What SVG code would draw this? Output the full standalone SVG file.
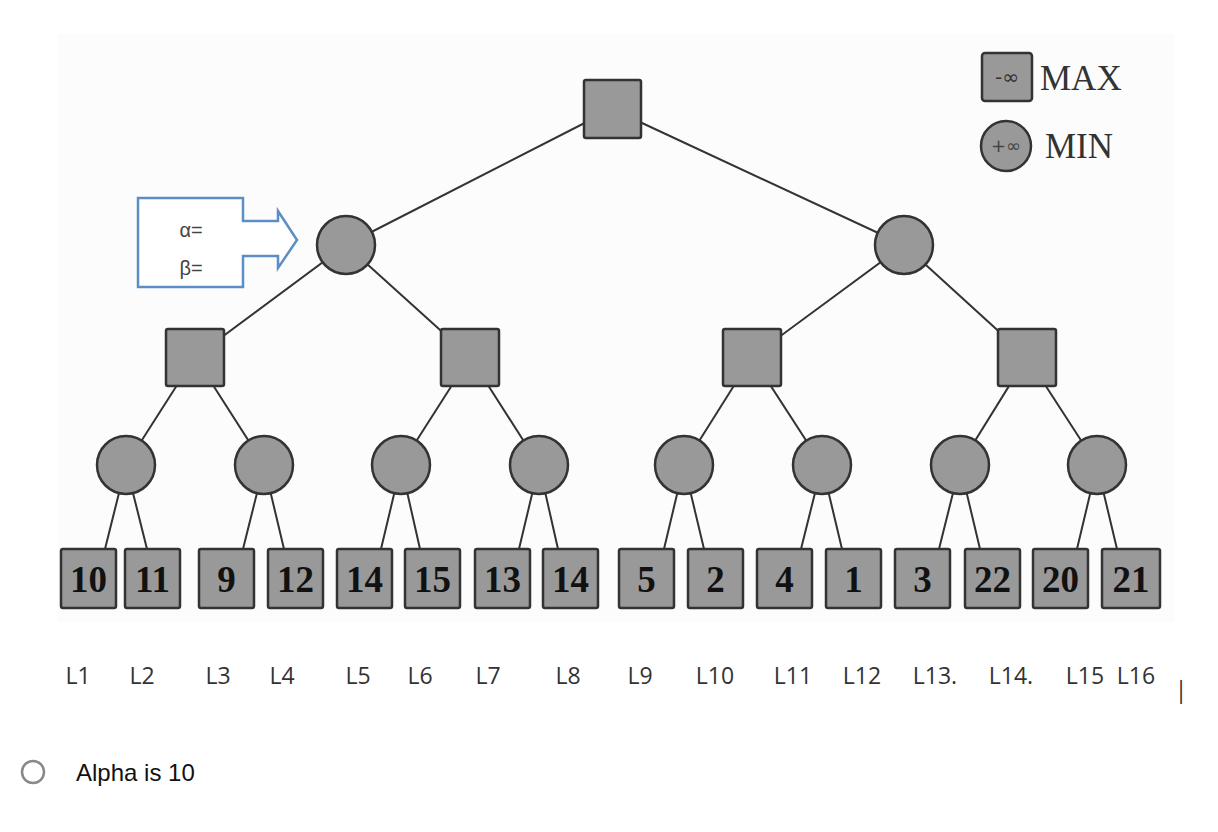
<svg xmlns="http://www.w3.org/2000/svg" width="1218" height="832" viewBox="0 0 1218 832">
<style>
.sq{fill:#999;stroke:#333;stroke-width:2.5}
.ci{fill:#999;stroke:#333;stroke-width:2.5}
.e{stroke:#333;stroke-width:2;fill:none}
.v{font-family:"Liberation Serif",serif;font-weight:bold;font-size:37px;fill:#111;text-anchor:middle}
.l{font-family:"Open Sans","DejaVu Sans",sans-serif;font-size:23px;fill:#333;text-anchor:middle}
.lg{font-family:"Liberation Serif",serif;font-size:35px;fill:#333}
</style>
<rect width="1218" height="832" fill="#fff"/>
<rect x="58" y="34" width="1116" height="588" fill="#fcfcfd"/>
<g id="connectors" class="e">
<path d="M612,109L346,245M612,109L904,245"/>
<path d="M346,245L195,357M346,245L470,357M904,245L752,357M904,245L1027,357"/>
<path d="M195,357L126,465M195,357L264,465M470,357L401,465M470,357L539,465M752,357L684,465M752,357L822,465M1027,357L960,465M1027,357L1097,465"/>
<path d="M126,465L105,549M126,465L147,549M264,465L243,549M264,465L284,549M401,465L381,549M401,465L420,549M539,465L519,549M539,465L558,549M684,465L664,549M684,465L704,549M822,465L801,549M822,465L842,549M960,465L939,549M960,465L980,549M1097,465L1077,549M1097,465L1117,549"/>
</g>
<g id="root"><rect class="sq" x="584" y="80" width="57" height="58" rx="2"/></g>
<g id="min1"><circle class="ci" cx="346" cy="245" r="29"/></g>
<g id="min2"><circle class="ci" cx="904" cy="245" r="29"/></g>
<g id="max1"><rect class="sq" x="166" y="329" width="58" height="57" rx="2"/></g>
<g id="max2"><rect class="sq" x="441" y="329" width="58" height="57" rx="2"/></g>
<g id="max3"><rect class="sq" x="723" y="329" width="58" height="57" rx="2"/></g>
<g id="max4"><rect class="sq" x="998" y="329" width="58" height="57" rx="2"/></g>
<g id="c1"><circle class="ci" cx="126" cy="465" r="29"/></g>
<g id="c2"><circle class="ci" cx="264" cy="465" r="29"/></g>
<g id="c3"><circle class="ci" cx="401" cy="465" r="29"/></g>
<g id="c4"><circle class="ci" cx="539" cy="465" r="29"/></g>
<g id="c5"><circle class="ci" cx="684" cy="465" r="29"/></g>
<g id="c6"><circle class="ci" cx="822" cy="465" r="29"/></g>
<g id="c7"><circle class="ci" cx="960" cy="465" r="29"/></g>
<g id="c8"><circle class="ci" cx="1097" cy="465" r="29"/></g>
<g id="leaf1"><rect class="sq" x="61" y="549" width="55" height="59" rx="2"/><text class="v" x="88.5" y="592">10</text></g>
<g id="leaf2"><rect class="sq" x="125" y="549" width="55" height="59" rx="2"/><text class="v" x="152.5" y="592">11</text></g>
<g id="leaf3"><rect class="sq" x="199" y="549" width="55" height="59" rx="2"/><text class="v" x="226.5" y="592">9</text></g>
<g id="leaf4"><rect class="sq" x="268" y="549" width="55" height="59" rx="2"/><text class="v" x="295.5" y="592">12</text></g>
<g id="leaf5"><rect class="sq" x="337" y="549" width="55" height="59" rx="2"/><text class="v" x="364.5" y="592">14</text></g>
<g id="leaf6"><rect class="sq" x="405" y="549" width="55" height="59" rx="2"/><text class="v" x="432.5" y="592">15</text></g>
<g id="leaf7"><rect class="sq" x="475" y="549" width="55" height="59" rx="2"/><text class="v" x="502.5" y="592">13</text></g>
<g id="leaf8"><rect class="sq" x="543" y="549" width="55" height="59" rx="2"/><text class="v" x="570.5" y="592">14</text></g>
<g id="leaf9"><rect class="sq" x="619" y="549" width="55" height="59" rx="2"/><text class="v" x="646.5" y="592">5</text></g>
<g id="leaf10"><rect class="sq" x="688" y="549" width="55" height="59" rx="2"/><text class="v" x="715.5" y="592">2</text></g>
<g id="leaf11"><rect class="sq" x="757" y="549" width="55" height="59" rx="2"/><text class="v" x="784.5" y="592">4</text></g>
<g id="leaf12"><rect class="sq" x="826" y="549" width="55" height="59" rx="2"/><text class="v" x="853.5" y="592">1</text></g>
<g id="leaf13"><rect class="sq" x="895" y="549" width="55" height="59" rx="2"/><text class="v" x="922.5" y="592">3</text></g>
<g id="leaf14"><rect class="sq" x="965" y="549" width="55" height="59" rx="2"/><text class="v" x="992.5" y="592">22</text></g>
<g id="leaf15"><rect class="sq" x="1033" y="549" width="55" height="59" rx="2"/><text class="v" x="1060.5" y="592">20</text></g>
<g id="leaf16"><rect class="sq" x="1102" y="549" width="58" height="59" rx="2"/><text class="v" x="1131" y="592">21</text></g>
<g id="labels">
<text class="l" x="78" y="684">L1</text><text class="l" x="142" y="684">L2</text><text class="l" x="218" y="684">L3</text><text class="l" x="282" y="684">L4</text>
<text class="l" x="358" y="684">L5</text><text class="l" x="420" y="684">L6</text><text class="l" x="488" y="684">L7</text><text class="l" x="568" y="684">L8</text>
<text class="l" x="640" y="684">L9</text><text class="l" x="715" y="684">L10</text><text class="l" x="793" y="684">L11</text><text class="l" x="862" y="684">L12</text>
<text class="l" x="935" y="684">L13.</text><text class="l" x="1011" y="684">L14.</text><text class="l" x="1085" y="684">L15</text><text class="l" x="1136" y="684">L16</text>
<text class="l" x="1181" y="698">|</text>
</g>
<g id="alphabeta">
<path d="M138,198H243V221H278V211L297,240L278,268V256H243V287H138Z" fill="#fff" stroke="#5b8ec4" stroke-width="2.5"/>
<text x="191" y="237" font-family="Liberation Sans,sans-serif" font-size="20" fill="#444" text-anchor="middle">α=</text>
<text x="191" y="275" font-family="Liberation Sans,sans-serif" font-size="20" fill="#444" text-anchor="middle">β=</text>
</g>
<g id="legend">
<rect class="sq" x="982" y="53" width="50" height="48" rx="3"/>
<text x="1007" y="84" font-family="DejaVu Sans,sans-serif" font-size="20" fill="#333" text-anchor="middle">-∞</text>
<text class="lg" x="1040" y="90">MAX</text>
<circle class="ci" cx="1006" cy="146" r="25"/>
<text x="1006" y="152" font-family="DejaVu Sans,sans-serif" font-size="18" fill="#444" text-anchor="middle">+∞</text>
<text class="lg" x="1045" y="158">MIN</text>
</g>
<g id="option">
<circle cx="33" cy="772" r="11" fill="#fff" stroke="#888" stroke-width="2.5"/>
<text x="76" y="781" font-family="Liberation Sans,sans-serif" font-size="24" fill="#111">Alpha is 10</text>
</g>
</svg>
